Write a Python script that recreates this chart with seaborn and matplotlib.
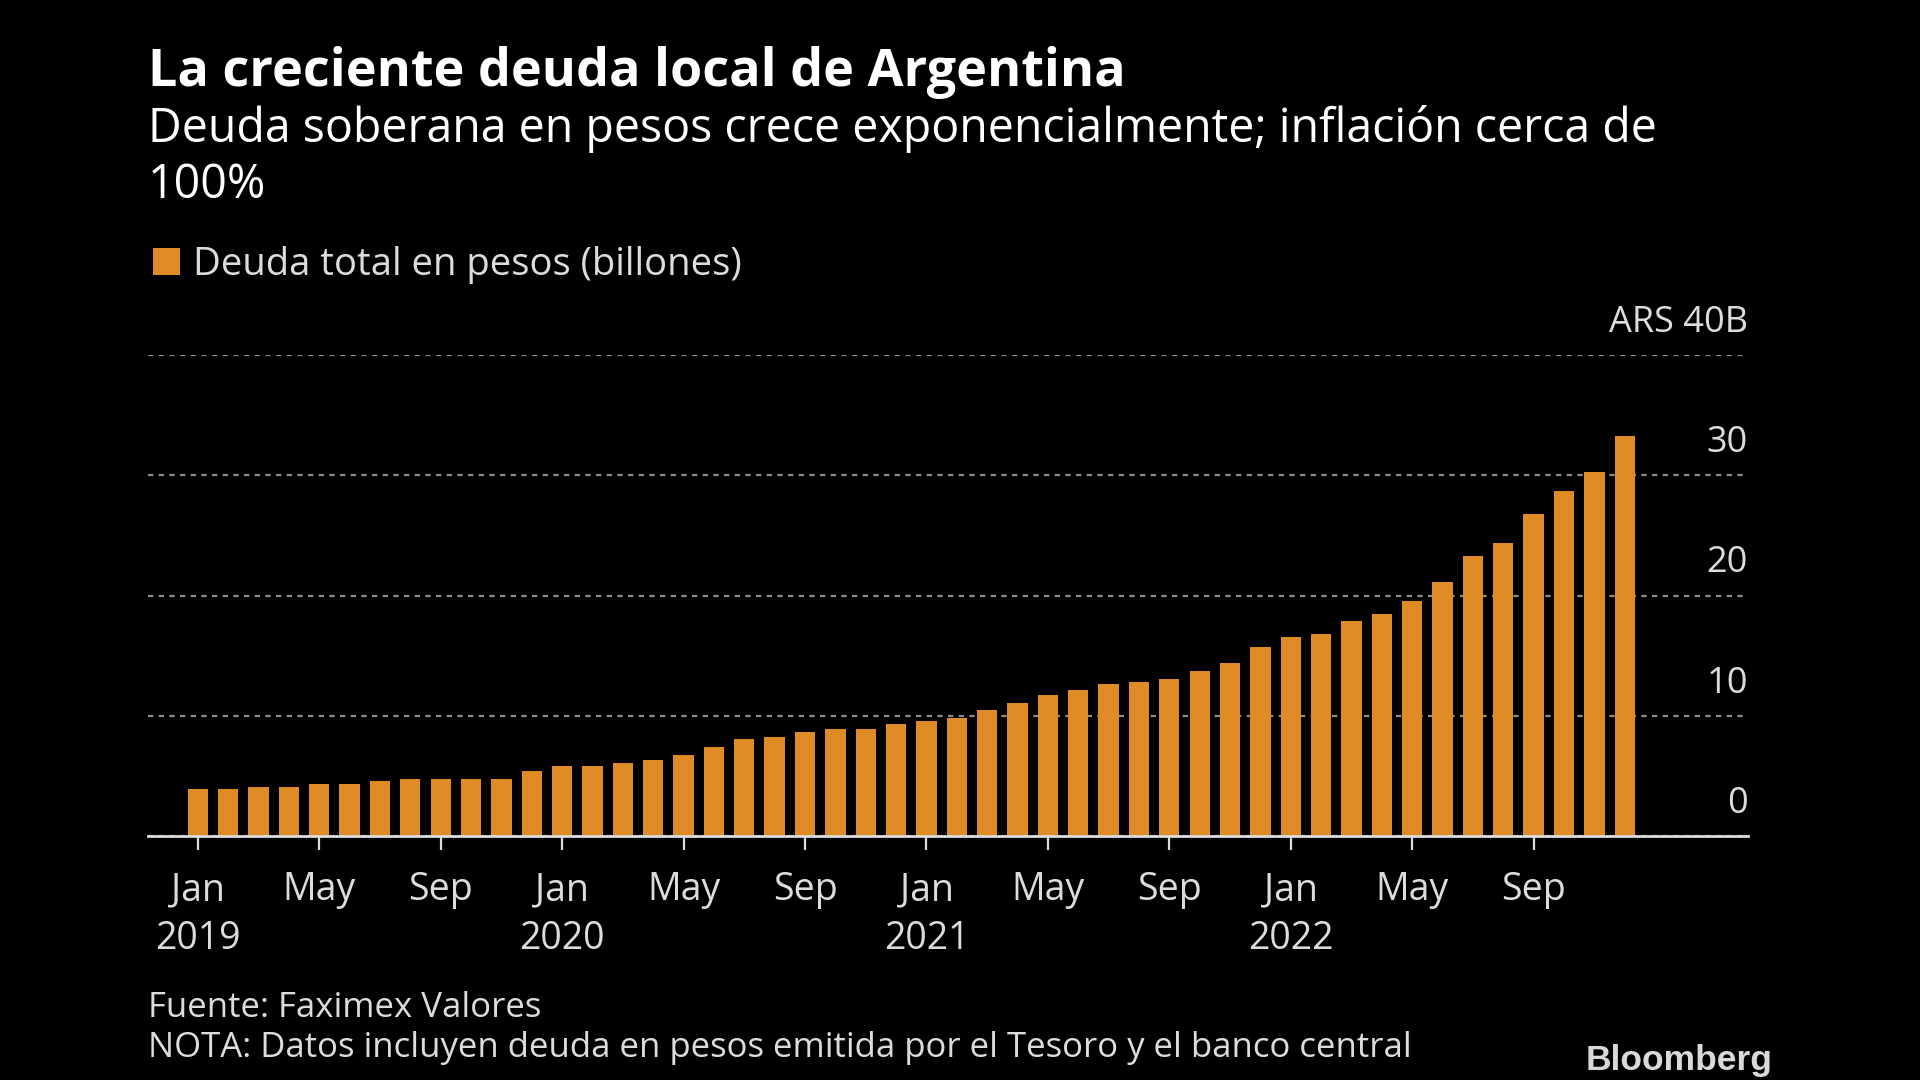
import pandas as pd
import matplotlib
matplotlib.use("Agg")
import matplotlib.pyplot as plt
import matplotlib.transforms as mtransforms
import seaborn as sns

# Monthly total peso debt (ARS trillions), Jan 2019 - Dec 2022
months = pd.date_range("2019-01-01", "2022-12-01", freq="MS").strftime("%Y-%m").tolist()
deuda = [3.88, 3.88, 4.10, 4.10, 4.32, 4.32, 4.54, 4.76, 4.76, 4.76, 4.76, 5.43,
         5.84, 5.84, 6.07, 6.29, 6.73, 7.37, 8.03, 8.25, 8.67, 8.89, 8.89, 9.34,
         9.56, 9.78, 10.44, 11.08, 11.75, 12.16, 12.60, 12.83, 13.02, 13.68, 14.35, 15.68,
         16.54, 16.76, 17.84, 18.50, 19.58, 21.11, 23.30, 24.38, 26.76, 28.73, 30.25, 33.30]

tick_pos = list(range(0, 48, 4))
tick_labels = ["Jan\n2019", "May", "Sep", "Jan\n2020", "May", "Sep",
               "Jan\n2021", "May", "Sep", "Jan\n2022", "May", "Sep"]
y_ticks = [0, 10, 20, 30, 40]
y_labels = ["0", "10", "20", "30", "ARS 40B"]

ORANGE = "#E08C26"
TEXT = "#DCDCDC"
BG = "#000000"

sns.set_theme(style="dark")
plt.rcParams["font.family"] = ["Open Sans", "DejaVu Sans"]

df = pd.DataFrame({"mes": months, "deuda": deuda})

fig = plt.figure(figsize=(19.2, 10.8), dpi=100, facecolor=BG)
ax = fig.add_axes([148 / 1920, 1 - 836 / 1080, 1600 / 1920, 481 / 1080])
ax.set_facecolor(BG)

sns.barplot(data=df, x="mes", y="deuda", color=ORANGE, saturation=1,
            width=0.67, ax=ax, zorder=3, linewidth=0, edgecolor="none",
            label="Deuda total en pesos (billones)")

ax.set_xlim(-1.64, 51.06)
ax.set_ylim(0, 40)
ax.set_xlabel("")
ax.set_ylabel("")

# grid
ax.set_yticks(y_ticks)
ax.yaxis.grid(True, color="#8c8c8c", linestyle=(0, (2.4, 2.4)), linewidth=1.6, zorder=1)
ax.xaxis.grid(False)
ax.tick_params(axis="y", length=0, labelleft=False, labelright=False)

# y labels above gridlines, right aligned
trans = mtransforms.blended_transform_factory(ax.transAxes, ax.transData)
trans = mtransforms.offset_copy(trans, fig=fig, y=23, units="dots")
for v, lab in zip(y_ticks, y_labels):
    ax.text(1.0, v, lab, transform=trans, ha="right", va="baseline",
            fontsize=26, color=TEXT)

# x axis
ax.set_xticks(tick_pos)
ax.set_xticklabels(tick_labels, fontsize=27, color=TEXT, linespacing=1.38)
ax.tick_params(axis="x", direction="out", length=10, width=1.6, color=TEXT,
               pad=15.5, bottom=True)
for s in ["top", "left", "right"]:
    ax.spines[s].set_visible(False)
ax.spines["bottom"].set_color(TEXT)
ax.spines["bottom"].set_linewidth(2)
ax.spines["bottom"].set_zorder(4)

# titles
fig.text(148 / 1920, 1 - 86 / 1080, "La creciente deuda local de Argentina",
         fontsize=37.5, fontweight="bold", color="white", va="baseline")
fig.text(148 / 1920, 1 - 142 / 1080,
         "Deuda soberana en pesos crece exponencialmente; inflación cerca de",
         fontsize=33.5, color="white", va="baseline")
fig.text(148 / 1920, 1 - 198 / 1080, "100%", fontsize=33.5, color="white", va="baseline")

# legend
handles, labels = ax.get_legend_handles_labels()
if ax.get_legend() is not None:
    ax.get_legend().remove()
leg = fig.legend(handles, labels, loc="center left",
                 bbox_to_anchor=(153 / 1920, 1 - 265 / 1080),
                 frameon=False, fontsize=27.5, handlelength=0.7, handleheight=0.7,
                 handletextpad=0.35, borderpad=0, borderaxespad=0)
for t in leg.get_texts():
    t.set_color(TEXT)

# footer
fig.text(148 / 1920, 1 - 1017 / 1080, "Fuente: Faximex Valores",
         fontsize=25, color=TEXT, va="baseline")
fig.text(148 / 1920, 1 - 1057 / 1080,
         "NOTA: Datos incluyen deuda en pesos emitida por el Tesoro y el banco central",
         fontsize=25, color=TEXT, va="baseline")
fig.text(1772 / 1920, 1 - 1070 / 1080, "Bloomberg", fontsize=25.5, fontweight="bold",
         family=["Liberation Sans", "DejaVu Sans"], color="#D9D9D9",
         ha="right", va="baseline")

fig.savefig("out.png", dpi=100, facecolor=BG)
